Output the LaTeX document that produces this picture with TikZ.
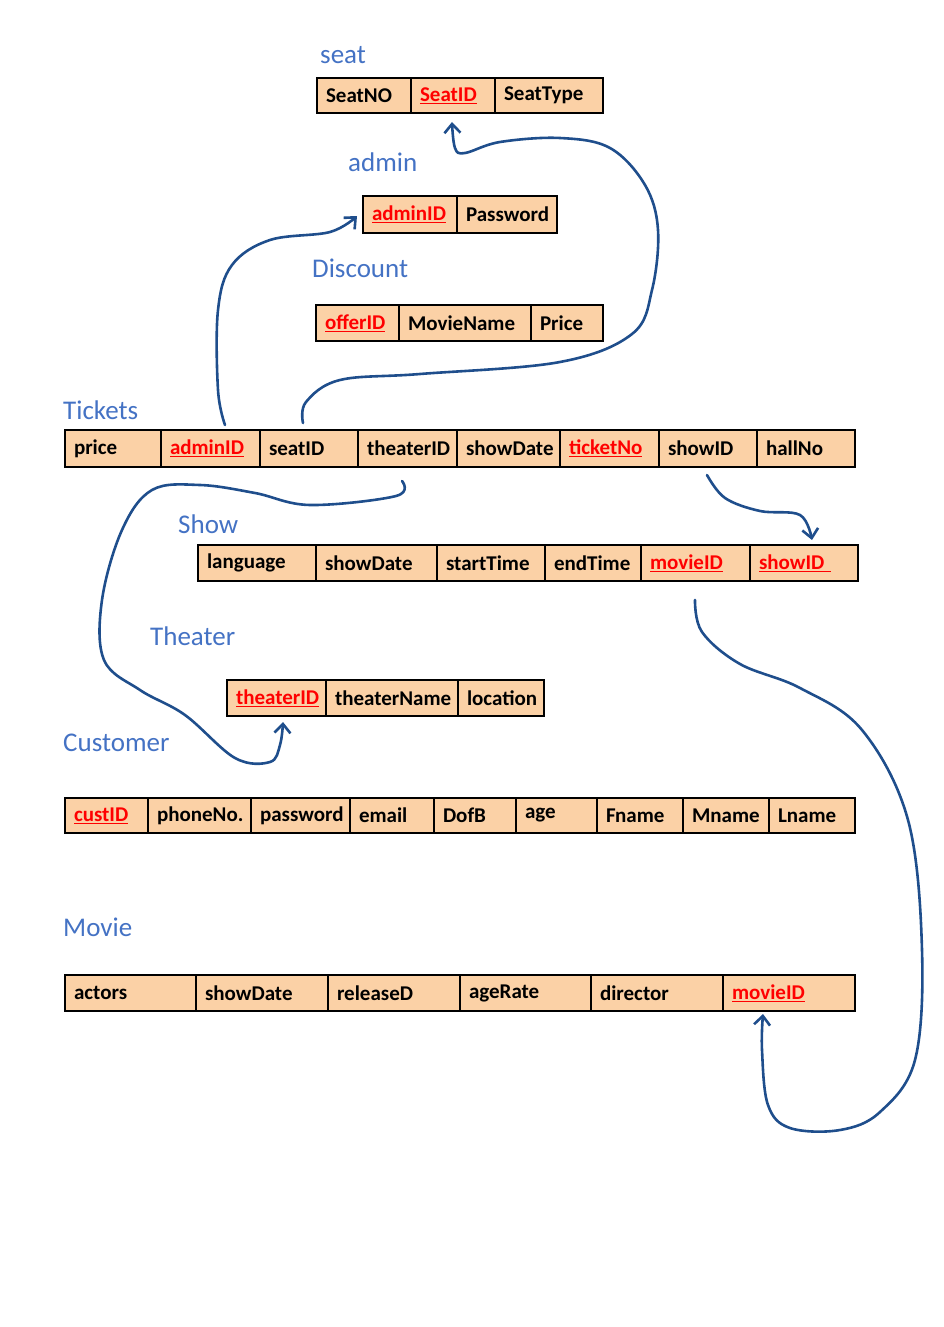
\documentclass[tikz,border=0pt]{standalone}
\usepackage{fontspec}
\setmainfont{Carlito}
\usetikzlibrary{arrows.meta}
\definecolor{peach}{HTML}{FBD1A6}
\definecolor{ttl}{HTML}{4472C4}
\definecolor{pen}{HTML}{1F4E8C}
\tikzset{
 cell/.style={draw=black,line width=1.3pt,fill=peach,inner sep=0pt,font=\bfseries\fontsize{21}{24}\selectfont},
 ttl/.style={anchor=west,text=ttl,font=\fontsize{27}{30}\selectfont,inner sep=0pt},
 conn/.style={draw=pen,line width=2.6pt,line cap=round,line join=round,-{Straight Barb[length=9pt,width=16pt]}}
}
\newcommand\mycell[7]{%
 \node[cell,minimum width={(#3-#2)*1pt},minimum height={(#5-#4)*1pt},text width={(#3-#2-18)*1pt},align=left] (#1) at ({(#2+#3)/2},{(#4+#5)/2}) {#6#7};}
\newcommand\kk[1]{\textcolor{red}{\underline{#1}}}
\begin{document}
\begin{tikzpicture}[x=1pt,y=-1pt]
\useasboundingbox (0,0) rectangle (944,1327);
\node[ttl] (tseat) at (320,55) {seat};
\node[ttl] (tadmin) at (348,162) {admin};
\node[ttl] (tdisc) at (312,268) {Discount};
\node[ttl] (ttick) at (63,410) {Tickets};
\node[ttl] (tshow) at (178,524) {Show};
\node[ttl] (tthe) at (150,636) {Theater};
\node[ttl] (tcust) at (63,743) {Customer};
\node[ttl] (tmov) at (63,927) {Movie};
% seat
\mycell{s1}{317}{411}{78}{113}{}{SeatNO}
\mycell{s2}{411}{495}{78}{113}{}{\kk{SeatID}}
\mycell{s3}{495}{603}{78}{113}{}{SeatType}
% admin
\mycell{a1}{363}{457}{196}{233}{}{\kk{adminID}}
\mycell{a2}{457}{557}{196}{233}{}{Password}
% discount
\mycell{d1}{316}{399}{305}{341}{}{\kk{offerID}}
\mycell{d2}{399}{531}{305}{341}{}{MovieName}
\mycell{d3}{531}{603}{305}{341}{}{Price}
% tickets
\mycell{t1}{65}{161}{430}{467}{}{price}
\mycell{t2}{161}{260}{430}{467}{}{\kk{adminID}}
\mycell{t3}{260}{358}{430}{467}{}{seatID}
\mycell{t4}{358}{457}{430}{467}{}{theaterID}
\mycell{t5}{457}{560}{430}{467}{}{showDate}
\mycell{t6}{560}{659}{430}{467}{}{\kk{ticketNo}}
\mycell{t7}{659}{757}{430}{467}{}{showID}
\mycell{t8}{757}{855}{430}{467}{}{hallNo}
% show
\mycell{h1}{198}{316}{545}{581}{}{language}
\mycell{h2}{316}{437}{545}{581}{}{showDate}
\mycell{h3}{437}{545}{545}{581}{}{startTime}
\mycell{h4}{545}{641}{545}{581}{}{endTime}
\mycell{h5}{641}{750}{545}{581}{}{\kk{movieID}}
\mycell{h6}{750}{858}{545}{581}{}{\kk{showID\ }}
% theater
\mycell{r1}{227}{326}{680}{716}{}{\kk{theaterID}}
\mycell{r2}{326}{458}{680}{716}{}{theaterName}
\mycell{r3}{458}{544}{680}{716}{}{location}
% customer
\mycell{c1}{65}{148}{798}{833}{}{\kk{custID}}
\mycell{c2}{148}{251}{798}{833}{}{phoneNo.}
\mycell{c3}{251}{350}{798}{833}{}{password}
\mycell{c4}{350}{434}{798}{833}{}{email}
\mycell{c5}{434}{516}{798}{833}{}{DofB}
\mycell{c6}{516}{597}{798}{833}{}{age}
\mycell{c7}{597}{683}{798}{833}{}{Fname}
\mycell{c8}{683}{769}{798}{833}{}{Mname}
\mycell{c9}{769}{855}{798}{833}{}{Lname}
% movie
\mycell{m1}{65}{196}{975}{1011}{}{actors}
\mycell{m2}{196}{328}{975}{1011}{}{showDate}
\mycell{m3}{328}{460}{975}{1011}{}{releaseD}
\mycell{m4}{460}{591}{975}{1011}{}{ageRate}
\mycell{m5}{591}{723}{975}{1011}{}{director}
\mycell{m6}{723}{855}{975}{1011}{}{\kk{movieID}}
% connectors
\draw[conn] plot[smooth,tension=0.6] coordinates {(303,423) (306,402) (340,380) (420,374) (560,362) (632,334) (652,290) (658,230) (645,185) (610,148) (560,138) (500,142) (465,153) (455,148) (452,122)};
\draw[conn] plot[smooth,tension=0.6] coordinates {(225,425) (218,390) (218,310) (232,265) (270,240) (330,232) (357,216)};
\draw[conn] plot[smooth,tension=0.6] coordinates {(402,481) (396,496) (310,505) (255,493) (200,485) (152,490) (122,530) (102,600) (104,660) (140,690) (185,715) (235,758) (270,762) (280,745) (283,722)};
\draw[conn] plot[smooth,tension=0.6] coordinates {(707,475) (725,498) (760,511) (800,515) (812,540)};
\draw[conn] plot[smooth,tension=0.6] coordinates {(695,600) (702,632) (740,664) (800,688) (862,730) (908,820) (922,950) (915,1060) (880,1112) (840,1130) (790,1128) (768,1105) (762,1050) (763,1014)};
\end{tikzpicture}
\end{document}
